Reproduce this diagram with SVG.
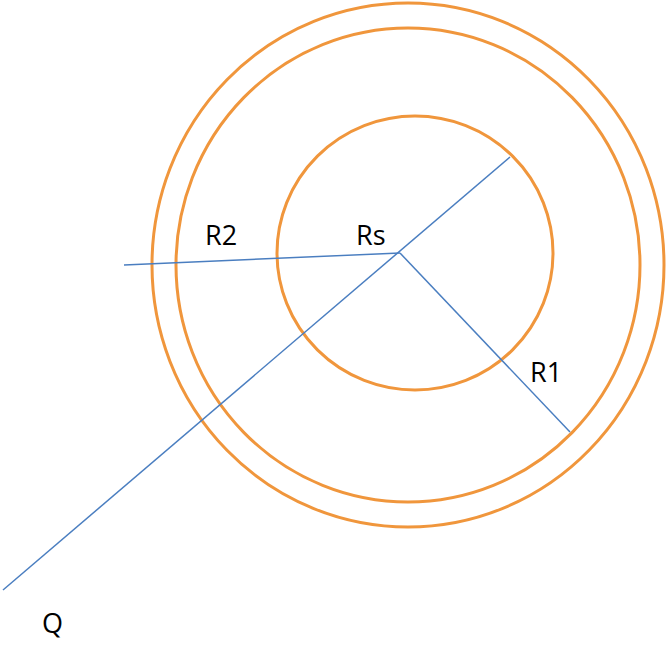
<svg xmlns="http://www.w3.org/2000/svg" width="667" height="652" viewBox="0 0 667 652">
<style>
.c{fill:none;stroke:#F0963C;stroke-width:3}
.l{stroke:#4A7EC0;stroke-width:1.5;fill:none}
text{font-family:"Open Sans","Liberation Sans",sans-serif;font-size:27px;fill:#000}
</style>
<rect width="667" height="652" fill="#fff"/>
<g id="outer"><ellipse class="c" cx="408" cy="265" rx="256" ry="262"/></g>
<g id="middle"><ellipse class="c" cx="408" cy="265" rx="232" ry="237"/></g>
<g id="inner"><ellipse class="c" cx="415" cy="253" rx="138" ry="137"/></g>
<g id="connectors">
<line class="l" x1="510" y1="157" x2="3" y2="590"/>
<line class="l" x1="124" y1="265" x2="400" y2="253"/>
<line class="l" x1="400" y1="253" x2="570" y2="432"/>
</g>
<g id="labels">
<text x="205" y="245">R2</text>
<text x="356" y="245">Rs</text>
<text x="530" y="382">R1</text>
<text x="42" y="633">Q</text>
</g>
</svg>
